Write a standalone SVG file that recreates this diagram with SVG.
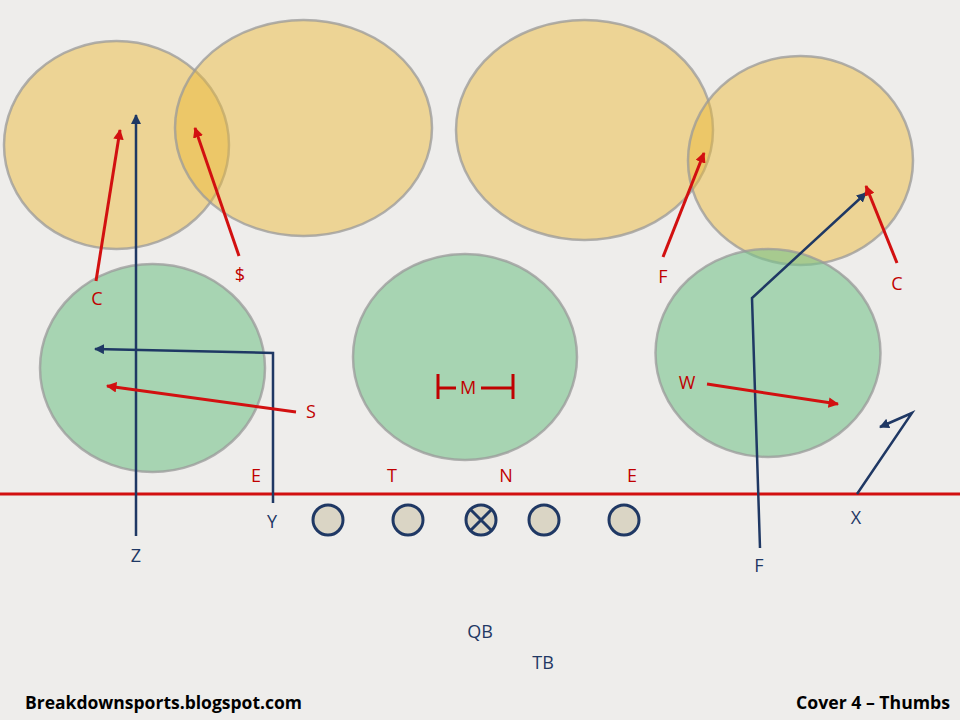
<svg xmlns="http://www.w3.org/2000/svg" width="960" height="720" viewBox="0 0 960 720">
<style>
.zy{fill:#ECB836;fill-opacity:0.47;stroke:#9A9A9A;stroke-opacity:0.75;stroke-width:2.5}
.zg{fill:#78C38C;fill-opacity:0.6;stroke:#9A9A9A;stroke-opacity:0.75;stroke-width:2.5}
.rt{fill:none;stroke:#1F3864;stroke-width:2.5}
.dr{fill:none;stroke:#D21010;stroke-width:3}
.lr{font-family:"Open Sans","Liberation Sans",sans-serif;font-size:18px;fill:#C00000;text-anchor:middle}
.lb{font-family:"Open Sans","Liberation Sans",sans-serif;font-size:18px;fill:#1F3864;text-anchor:middle}
.pl{fill:#DAD5C5;stroke:#1F3864;stroke-width:3}
.ft{font-family:"Open Sans","Liberation Sans",sans-serif;font-size:17px;font-weight:bold;fill:#000}
</style>
<defs>
<marker id="ab" viewBox="0 0 10 10" refX="9" refY="5" markerWidth="4" markerHeight="4" orient="auto" markerUnits="strokeWidth"><path d="M0,0 L10,5 L0,10 z" fill="#1F3864"/></marker>
<marker id="ar" viewBox="0 0 10 10" refX="9" refY="5" markerWidth="3.5" markerHeight="3.5" orient="auto" markerUnits="strokeWidth"><path d="M0,0 L10,5 L0,10 z" fill="#D21010"/></marker>
</defs>
<rect x="0" y="0" width="960" height="720" fill="#EEEDEB"/>
<g id="zones">
<g id="deep1"><ellipse class="zy" cx="116.5" cy="145" rx="112.5" ry="104"/></g>
<g id="deep2"><ellipse class="zy" cx="303.5" cy="128" rx="128.5" ry="108"/></g>
<g id="deep3"><ellipse class="zy" cx="584.5" cy="130" rx="128.5" ry="110"/></g>
<g id="deep4"><ellipse class="zy" cx="800.5" cy="160.5" rx="112.5" ry="104.5"/></g>
<g id="under1"><ellipse class="zg" cx="152.5" cy="368" rx="112.5" ry="104"/></g>
<g id="under2"><ellipse class="zg" cx="465" cy="357" rx="112" ry="103"/></g>
<g id="under3"><ellipse class="zg" cx="768" cy="353" rx="112.5" ry="104"/></g>
</g>
<g id="los"><line x1="0" y1="494" x2="960" y2="494" stroke="#D21010" stroke-width="3"/></g>
<g id="connectors">
<path class="rt" d="M136,536 L136,115" marker-end="url(#ab)"/>
<path class="rt" d="M273,503 L273,353 L95,349" marker-end="url(#ab)"/>
<path class="rt" d="M760,548 L752,298 L866,193" marker-end="url(#ab)"/>
<path class="rt" d="M857,494 L912,413 L880,427" marker-end="url(#ab)"/>
<path class="dr" d="M96,281 L120,130" marker-end="url(#ar)"/>
<path class="dr" d="M239,256 L195,128" marker-end="url(#ar)"/>
<path class="dr" d="M663,257 L704,153" marker-end="url(#ar)"/>
<path class="dr" d="M897,263 L866,186" marker-end="url(#ar)"/>
<path class="dr" d="M296,412 L107,386" marker-end="url(#ar)"/>
<path class="dr" d="M707,384 L838,404" marker-end="url(#ar)"/>
</g>
<g id="defenders">
<g id="def-C1"><text class="lr" x="97" y="305">C</text></g>
<g id="def-S$"><text class="lr" x="240" y="281">$</text></g>
<g id="def-F"><text class="lr" x="663" y="283">F</text></g>
<g id="def-C2"><text class="lr" x="897" y="290">C</text></g>
<g id="def-S"><text class="lr" x="311" y="418">S</text></g>
<g id="def-W"><text class="lr" x="687" y="389">W</text></g>
<g id="def-M">
<path d="M438,374 L438,399 M438,388 L456,388 M481,388 L513,388 M513,374 L513,399" stroke="#C00000" stroke-width="3" fill="none"/>
<text class="lr" x="468" y="394">M</text>
</g>
<g id="def-E1"><text class="lr" x="256" y="482">E</text></g>
<g id="def-T"><text class="lr" x="392" y="482">T</text></g>
<g id="def-N"><text class="lr" x="506" y="482">N</text></g>
<g id="def-E2"><text class="lr" x="632" y="482">E</text></g>
</g>
<g id="offense">
<g id="ol1"><circle class="pl" cx="328" cy="520" r="15"/></g>
<g id="ol2"><circle class="pl" cx="408" cy="520" r="15"/></g>
<g id="center"><circle class="pl" cx="481" cy="520" r="15"/><path d="M471,510 L491,530 M491,510 L471,530" stroke="#1F3864" stroke-width="3"/></g>
<g id="ol4"><circle class="pl" cx="544" cy="520" r="15"/></g>
<g id="ol5"><circle class="pl" cx="624" cy="520" r="15"/></g>
<g id="off-Y"><text class="lb" x="272" y="528">Y</text></g>
<g id="off-Z"><text class="lb" x="136" y="562">Z</text></g>
<g id="off-F"><text class="lb" x="759" y="572">F</text></g>
<g id="off-X"><text class="lb" x="856" y="524">X</text></g>
<g id="off-QB"><text class="lb" x="480" y="638">QB</text></g>
<g id="off-TB"><text class="lb" x="543" y="669">TB</text></g>
</g>
<g id="footer">
<text class="ft" x="25" y="709" textLength="277" lengthAdjust="spacingAndGlyphs">Breakdownsports.blogspot.com</text>
<text class="ft" x="796" y="709" textLength="154" lengthAdjust="spacingAndGlyphs">Cover 4 – Thumbs</text>
</g>
</svg>
